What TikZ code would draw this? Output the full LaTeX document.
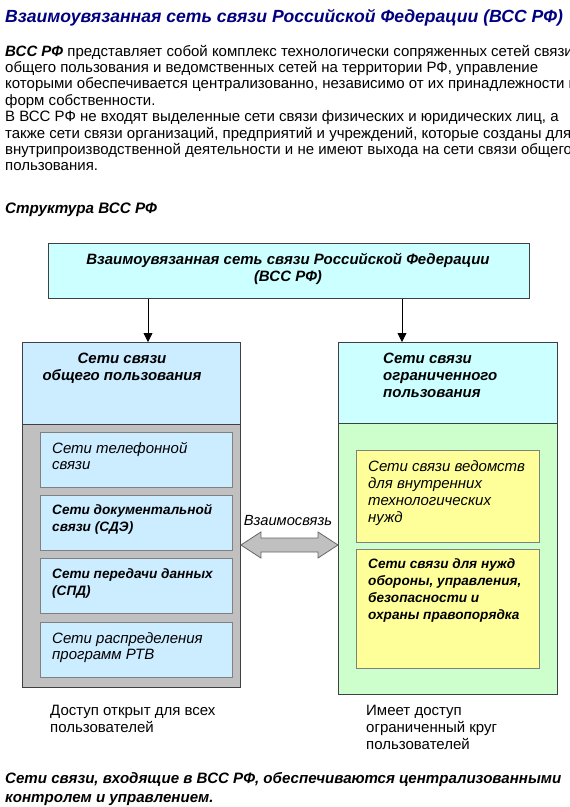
\documentclass[tikz,border=0pt]{standalone}
\usepackage{fontspec}
\setmainfont{Liberation Sans}
\usepackage{xcolor}
\usetikzlibrary{arrows.meta, positioning, calc}

\definecolor{topfill}{HTML}{CCFFFF}
\definecolor{bluefill}{HTML}{CCECFF}
\definecolor{grayfill}{HTML}{C0C0C0}
\definecolor{greenfill}{HTML}{CCFFCC}
\definecolor{yellowfill}{HTML}{FFFF99}
\definecolor{titleblue}{HTML}{000080}

\begin{document}
\begin{tikzpicture}[x=1pt, y=-1pt,
  every node/.style={inner sep=0pt},
  panel/.style={draw=black!75, anchor=north west, line width=0.9pt},
  inbox/.style={draw=black!50, anchor=north west, line width=1pt, fill=bluefill,
    minimum width=192, minimum height=55},
  ybox/.style={draw=black!50, anchor=north west, line width=1pt, fill=yellowfill,
    minimum width=183},
  % base anchors sit on the LAST line of a block
  body/.style={anchor=base west, align=left, font=\fontsize{15}{16.4}\selectfont},
  btxt/.style={anchor=base west, align=left, font=\fontsize{15}{16.5}\selectfont\itshape},
  bbtxt/.style={btxt, font=\fontsize{13.6}{17}\selectfont\bfseries\itshape},
  htxt/.style={btxt, font=\fontsize{15}{17}\selectfont\bfseries\itshape},
  arr/.style={-{Triangle[length=9pt, width=9pt]}, line width=0.8pt}]
  \useasboundingbox (0,0) rectangle (570,807);
  \clip (0,0) rectangle (570,807);
  % ---------- HEADER TEXT ----------
  \node[anchor=base west, text=titleblue, font=\fontsize{17.6}{18}\selectfont\bfseries\itshape]
    (title) at (5,22) {Взаимоувязанная сеть связи Российской Федерации (ВСС РФ)};
  \node[body] (intro) at (5,170.8) {\textbf{\textit{ВСС РФ}} представляет собой комплекс технологически сопряженных сетей связи\\
    общего пользования и ведомственных сетей на территории РФ, управление\\
    которыми обеспечивается централизованно, независимо от их принадлежности и\\
    форм собственности.\\
    В ВСС РФ не входят выделенные сети связи физических и юридических лиц, а\\
    также сети связи организаций, предприятий и учреждений, которые созданы для\\
    внутрипроизводственной деятельности и не имеют выхода на сети связи общего\\
    пользования.};
  \node[anchor=base west, font=\fontsize{15.2}{16}\selectfont\bfseries\itshape]
    (struct) at (5,213) {Структура ВСС РФ};
  % ---------- TOP BOX ----------
  \node[panel, fill=topfill, minimum width=481, minimum height=55] (topbox) at (48,243) {};
  \node[htxt, anchor=base, align=center] (toptxt) at (288,281)
    {Взаимоувязанная сеть связи Российской Федерации\\(ВСС РФ)\hspace{24pt}};
  % ---------- LEFT: general use ----------
  \node[panel, fill=grayfill, minimum width=218, minimum height=345] (lbox) at (22,342) {};
  \node[panel, fill=bluefill, minimum width=218, minimum height=82] (lhead) at (22,342) {};
  \node[htxt, anchor=base, align=center] (lheadtxt) at (122,380) {Сети связи\\общего пользования};
  \node[inbox] (tel) at (40,432) {};
  \node[inbox] (doc) at (40,495) {};
  \node[inbox] (data) at (40,558) {};
  \node[inbox] (rtv) at (40,622) {};
  \node[btxt] (teltxt) at (52,469.5) {Сети телефонной\\связи};
  \node[bbtxt] (doctxt) at (52,531.5) {Сети документальной\\связи (СДЭ)};
  \node[bbtxt] (datatxt) at (52,595.5) {Сети передачи данных\\(СПД)};
  \node[btxt] (rtvtxt) at (52,659.5) {Сети распределения\\программ РТВ};
  % ---------- RIGHT: restricted use ----------
  \node[panel, fill=greenfill, minimum width=219, minimum height=352] (rbox) at (338,342) {};
  \node[panel, fill=topfill, minimum width=219, minimum height=81] (rhead) at (338,342) {};
  \node[htxt] (rheadtxt) at (383,397) {Сети связи\\ограниченного\\пользования};
  \node[ybox, minimum height=92] (vedom) at (356,450) {};
  \node[ybox, minimum height=119] (oborona) at (356,549) {};
  \node[btxt, font=\fontsize{15}{17}\selectfont\itshape] (vedomtxt) at (368,522)
    {Сети связи ведомств\\для внутренних\\технологических\\нужд};
  \node[bbtxt] (oboronatxt) at (368,619) {Сети связи для нужд\\обороны, управления,\\безопасности и\\охраны правопорядка};
  % ---------- ARROWS ----------
  \coordinate (a1) at (148,0);
  \coordinate (a2) at (402,0);
  \draw[arr] (topbox.south -| a1) -- (lbox.north -| a1);
  \draw[arr] (topbox.south -| a2) -- (rbox.north -| a2);
  \coordinate (lt) at (lbox.east |- 0,545);
  \coordinate (rt) at (rbox.west |- 0,545);
  \draw[fill=grayfill, draw=black!60, line width=0.8pt]
    (lt) -- ++(20,-13) -- ++(0,6) -- ($(rt)+(-20,-7)$) -- ++(0,-6) -- (rt)
    -- ++(-20,13) -- ++(0,-6) -- ($(lt)+(20,7)$) -- ++(0,6) -- cycle;
  \node[anchor=base, font=\fontsize{14.7}{15}\selectfont\itshape] (link) at (288,525) {Взаимосвязь};
  % ---------- FOOTER TEXT ----------
  \node[body, font=\fontsize{15}{17}\selectfont] (ltxt) at (50,732) {Доступ открыт для всех\\пользователей};
  \node[body, font=\fontsize{15}{17}\selectfont] (rtxt) at (366,749) {Имеет доступ\\ограниченный круг\\пользователей};
  \node[anchor=base west, align=left, font=\fontsize{15.1}{19}\selectfont\bfseries\itshape]
    (final) at (5,802) {Сети связи, входящие в ВСС РФ, обеспечиваются централизованными\\контролем и управлением.};
\end{tikzpicture}
\end{document}
